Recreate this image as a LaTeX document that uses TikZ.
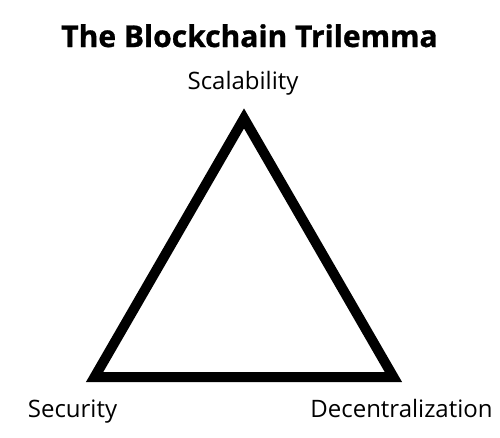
\documentclass[tikz,border=0pt]{standalone}
\usepackage{fontspec}
\setmainfont{Open Sans}
\newfontfamily\ttlfont{Open Sans Bold}[FakeBold=1]
\begin{document}
\begin{tikzpicture}[x=1pt,y=-1pt,
  lbl/.style={font=\fontsize{24}{28}\selectfont, inner sep=0pt, anchor=base},
  ttl/.style={font=\ttlfont\fontsize{30}{34}\selectfont, inner sep=0pt, anchor=base},
  tri/.style={line width=10pt, line join=miter}]
\useasboundingbox[fill=white] (0,0) rectangle (500,437);
\node[ttl] (title) at (249.5,47) {The Blockchain Trilemma};
\coordinate (top) at (244,118.4);
\coordinate (bl) at (94.6,377);
\coordinate (br) at (393.4,377);
\draw[tri] (top) -- (br) -- (bl) -- cycle;
\node[lbl] (scal) at (243,89) {Scalability};
\node[lbl] (sec) at (72.5,417) {Security};
\node[lbl] (dec) at (401.5,417) {Decentralization};
\end{tikzpicture}
\end{document}
